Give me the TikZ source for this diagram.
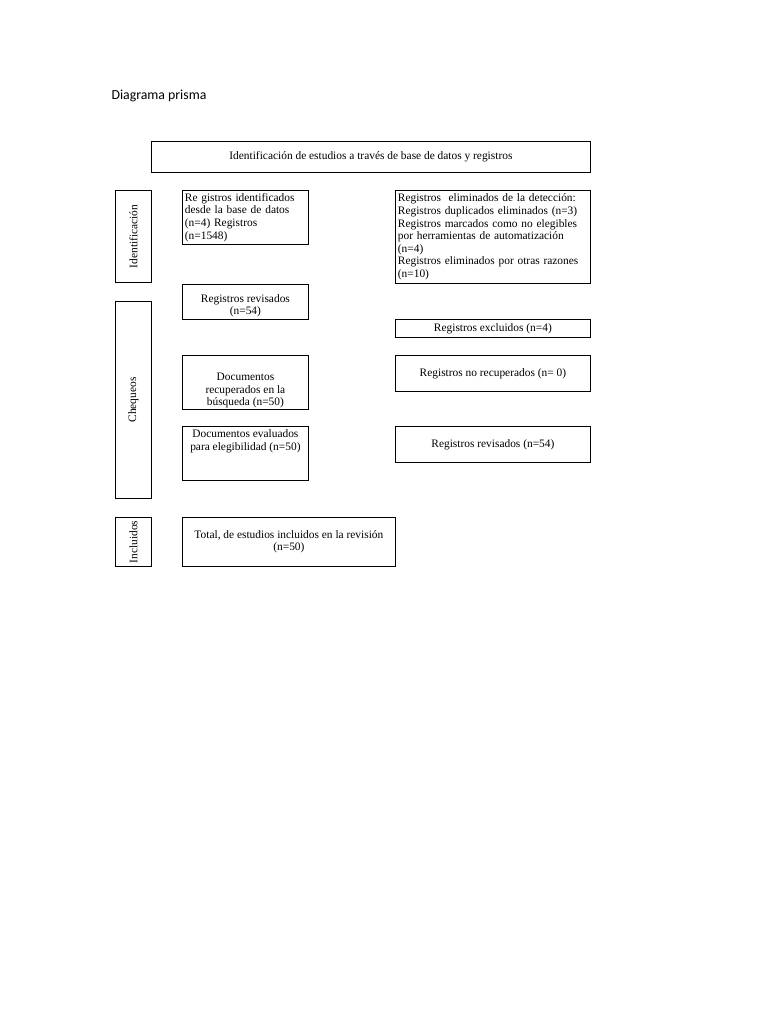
\documentclass[tikz,border=0pt]{standalone}
\usepackage{fontspec}
\setmainfont{Liberation Serif}
\newfontfamily\titlefont{Carlito}
\usetikzlibrary{positioning}

\begin{document}
\begin{tikzpicture}
		[x=1pt,y=-1pt,
		box/.style={rectangle,draw=black,line width=0.8pt,anchor=north west,inner sep=2pt,font=\fontsize{11.4}{12.6}\selectfont},
		phase/.style={box,minimum width=36pt},
		flow/.style={box,minimum width=126pt,align=center},
		note/.style={box,minimum width=195pt,align=center}]
		\useasboundingbox (0,0) rectangle (768,1024);

		\node [anchor=west,font=\titlefont\fontsize{13.8}{16}\selectfont] (title) at (108,96) {Diagrama prisma};
		\node [box,minimum width=439pt,minimum height=31pt] (head) at (151,141) {Identificación de estudios a través de base de datos y registros};

		% fases
		\node [phase,minimum height=92pt] (fid) at (115,190) {\rotatebox{90}{Identificación}};
		\node [phase,minimum height=197pt] (fch) at (115,301) {\rotatebox{90}{Chequeos}};
		\node [phase,minimum height=49pt] (fin) at (115,517) {\rotatebox{90}{Incluidos}};

		% columna izquierda
		\node [flow,minimum height=54pt,align=left,text width=121pt] (ident) at (182,190) {Re gistros identificados\\desde la base de datos\\(n=4) Registros\\(n=1548)};
		\node [flow,minimum height=35pt,inner sep=0pt] (rev) at (182,284) {\rule{0pt}{16pt}Registros revisados\\(n=54)};
		\node [flow,minimum height=54pt,inner sep=0pt] (recup) at (182,355) {\rule{0pt}{24pt}Documentos\\recuperados en la\\búsqueda (n=50)};
		\node [flow,minimum height=54pt] (eval) at (182,426) {Documentos evaluados\\para elegibilidad (n=50)\\[14pt]\mbox{}};
		\node [flow,minimum width=213pt,minimum height=49pt] (total) at (182,517) {Total, de estudios incluidos en la revisión\\(n=50)};

		% columna derecha
		\node [note,minimum height=93pt,align=left,text width=190pt] (elim) at (395,190) {Registros\ \ eliminados de la detección:\\Registros duplicados eliminados (n=3)\\Registros marcados como no elegibles\\por herramientas de automatización\\(n=4)\\Registros eliminados por otras razones\\(n=10)};
		\node [note,minimum height=18pt,inner sep=1pt] (excl) at (395,319) {Registros excluidos (n=4)};
		\node [note,minimum height=36pt] (norec) at (395,355) {Registros no recuperados (n= 0)};
		\node [note,minimum height=36pt] (rev2) at (395,426) {Registros revisados (n=54)};

	\end{tikzpicture}
\end{document}
